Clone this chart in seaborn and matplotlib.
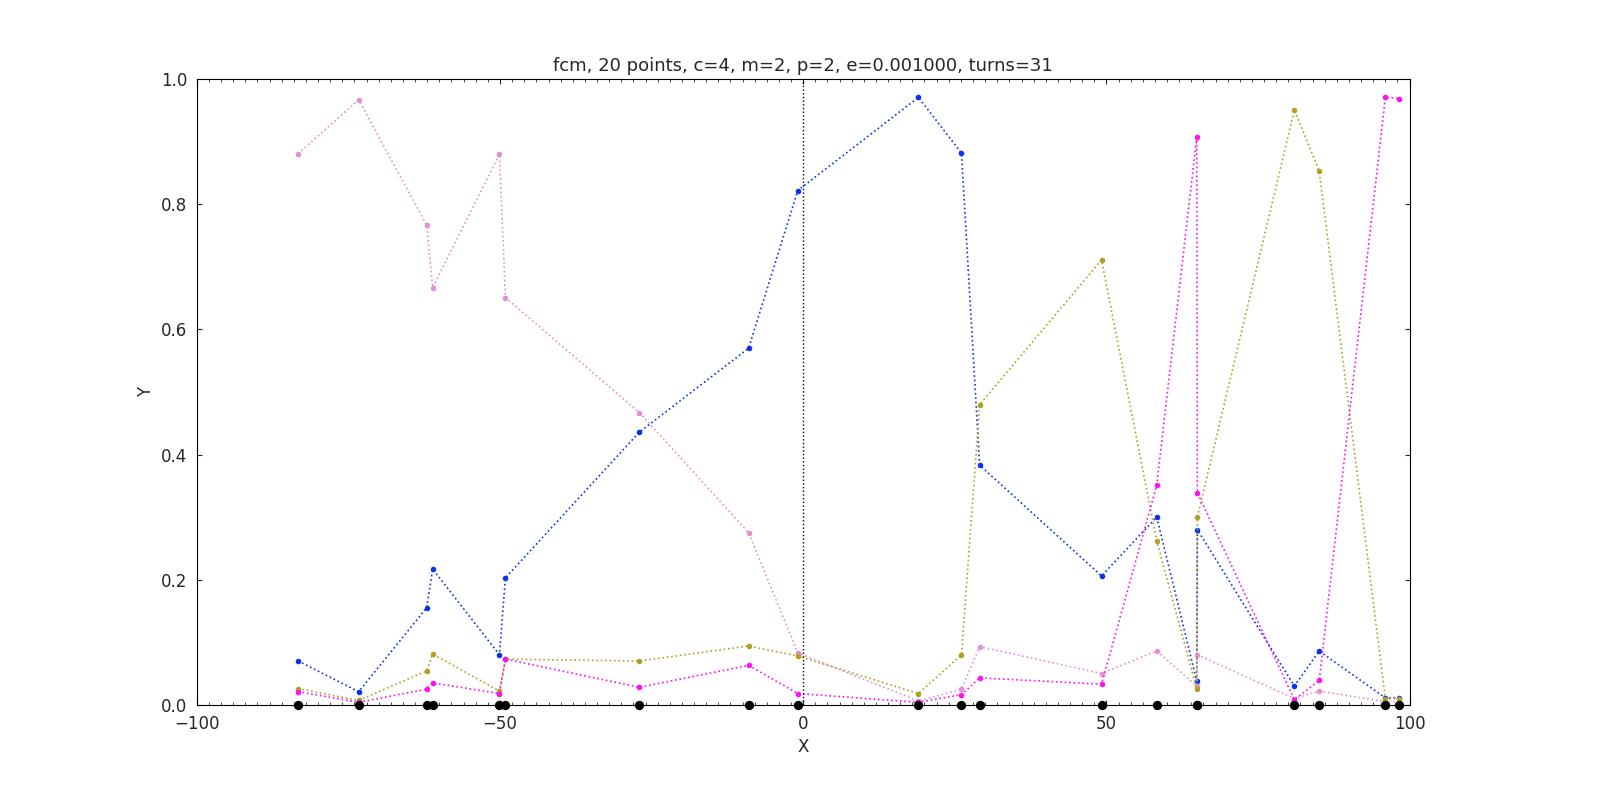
import matplotlib
matplotlib.use("Agg")
import matplotlib.pyplot as plt
import seaborn as sns
import pandas as pd
from matplotlib.ticker import MultipleLocator

sns.set_style("ticks")
plt.rcParams['font.family'] = ['DejaVu Sans']

xs = [-83.3, -73.3, -62.1, -61.1, -50.1, -49.1, -27.0, -9.0, -0.9, 19.0,
      26.1, 29.1, 49.2, 58.3, 64.9, 65.0, 81.0, 85.1, 96.0, 98.2]
blue = [0.070, 0.021, 0.155, 0.217, 0.080, 0.203, 0.436, 0.570, 0.822, 0.971,
        0.882, 0.383, 0.206, 0.300, 0.038, 0.280, 0.030, 0.086, 0.011, 0.011]
pink = [0.881, 0.967, 0.767, 0.667, 0.880, 0.651, 0.467, 0.275, 0.083, 0.006,
        0.025, 0.093, 0.050, 0.086, 0.030, 0.080, 0.010, 0.022, 0.005, 0.005]
olive = [0.026, 0.007, 0.054, 0.081, 0.022, 0.073, 0.070, 0.094, 0.078, 0.018,
         0.080, 0.480, 0.711, 0.262, 0.025, 0.300, 0.951, 0.853, 0.010, 0.010]
magenta = [0.021, 0.004, 0.025, 0.035, 0.018, 0.073, 0.028, 0.063, 0.018, 0.004,
           0.016, 0.043, 0.033, 0.351, 0.907, 0.339, 0.008, 0.039, 0.971, 0.969]

series = {"blue": (blue, "#0a32f0"), "pink": (pink, "#e58fd4"),
          "olive": (olive, "#b0a125"), "magenta": (magenta, "#ff10ee")}

fig, ax = plt.subplots(figsize=(16, 8), dpi=100)
for name, (vals, col) in series.items():
    df = pd.DataFrame({"x": xs, "y": vals})
    sns.lineplot(data=df, x="x", y="y", ax=ax, color=col, linestyle=":",
                 linewidth=1.2, marker="o", markersize=4, markeredgewidth=0,
                 sort=False, estimator=None)
sns.scatterplot(x=xs, y=[0]*len(xs), ax=ax, color="black", s=45, zorder=5,
                linewidth=0, clip_on=False)
ax.axvline(0, color="black", linestyle=":", linewidth=1)
ax.set_xlim(-100, 100)
ax.set_ylim(0, 1)
ax.xaxis.set_major_locator(MultipleLocator(50))
ax.xaxis.set_minor_locator(MultipleLocator(2))
ax.yaxis.set_major_locator(MultipleLocator(0.2))
ax.tick_params(direction="in", top=True, right=True, which="both", labelsize=12)
ax.tick_params(axis="x", pad=7)
ax.tick_params(axis="y", pad=7)
ax.set_xlabel("X", fontsize=12)
ax.set_ylabel("Y", fontsize=12)
ax.set_title("fcm, 20 points, c=4, m=2, p=2, e=0.001000, turns=31", fontsize=13)
for s in ax.spines.values():
    s.set_color("black")
plt.subplots_adjust(left=0.123, right=0.881, top=0.901, bottom=0.119)
fig.savefig("out.png")
